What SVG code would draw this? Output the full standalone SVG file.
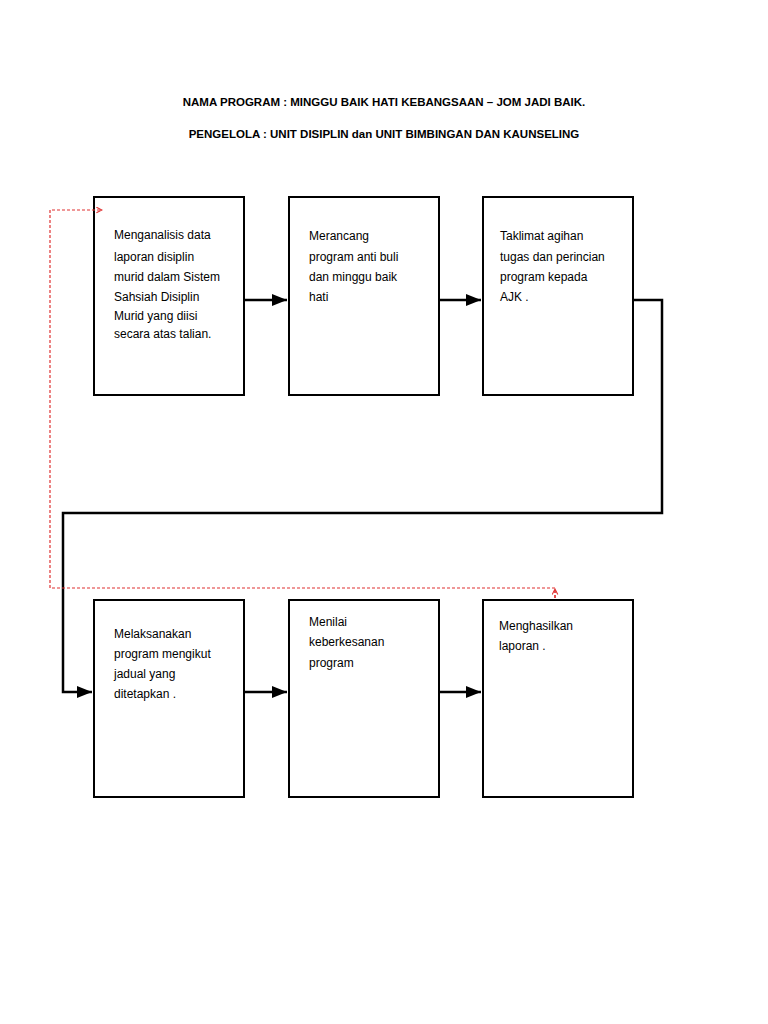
<svg xmlns="http://www.w3.org/2000/svg" width="768" height="1024" viewBox="0 0 768 1024">
<style>
text{font-family:"Liberation Sans",Arial,sans-serif;font-size:12px;fill:#000}
.t{font-weight:bold;font-size:11.5px}
.box{fill:#fff;stroke:#000;stroke-width:2}
.c{fill:none;stroke:#000;stroke-width:2.5}
.r{fill:none;stroke:#e03030;stroke-width:1.2;stroke-dasharray:3,2}
</style>
<defs>
<marker id="a" viewBox="0 0 10 10" refX="10" refY="5" markerWidth="6" markerHeight="6" orient="auto"><path d="M0,1L10,5L0,9z" fill="#000"/></marker>
<marker id="o" viewBox="0 0 10 10" refX="9" refY="5" markerWidth="7" markerHeight="7" orient="auto" markerUnits="userSpaceOnUse"><path d="M1,1L9,5L1,9" fill="none" stroke="#e03030" stroke-width="1.5"/></marker>
</defs>
<text class="t" x="384" y="106" text-anchor="middle">NAMA PROGRAM : MINGGU BAIK HATI KEBANGSAAN – JOM JADI BAIK.</text>
<text class="t" x="384" y="138" text-anchor="middle">PENGELOLA : UNIT DISIPLIN dan UNIT BIMBINGAN DAN KAUNSELING</text>
<g id="n1"><rect class="box" x="94" y="197" width="150" height="198"/>
<text x="114" y="239">Menganalisis data</text><text x="114" y="261">laporan disiplin</text><text x="114" y="281">murid dalam Sistem</text><text x="114" y="301">Sahsiah Disiplin</text><text x="114" y="320">Murid yang diisi</text><text x="114" y="338">secara atas talian.</text></g>
<g id="n2"><rect class="box" x="289" y="197" width="150" height="198"/>
<text x="309" y="240">Merancang</text><text x="309" y="261">program anti buli</text><text x="309" y="281">dan minggu baik</text><text x="309" y="301">hati</text></g>
<g id="n3"><rect class="box" x="483" y="197" width="150" height="198"/>
<text x="500" y="240">Taklimat agihan</text><text x="500" y="261">tugas dan perincian</text><text x="500" y="281">program kepada</text><text x="500" y="301">AJK .</text></g>
<g id="n4"><rect class="box" x="94" y="600" width="150" height="197"/>
<text x="114" y="638">Melaksanakan</text><text x="114" y="658">program mengikut</text><text x="114" y="678">jadual  yang</text><text x="114" y="698">ditetapkan .</text></g>
<g id="n5"><rect class="box" x="289" y="600" width="150" height="197"/>
<text x="309" y="626">Menilai</text><text x="309" y="646">keberkesanan</text><text x="309" y="667">program</text></g>
<g id="n6"><rect class="box" x="483" y="600" width="150" height="197"/>
<text x="499" y="630">Menghasilkan</text><text x="499" y="650">laporan .</text></g>
<g id="connectors">
<path class="c" d="M244,300H287" marker-end="url(#a)"/>
<path class="c" d="M439,300H481" marker-end="url(#a)"/>
<path class="c" d="M633,300H662V513H63V692H92" marker-end="url(#a)"/>
<path class="c" d="M244,692H287" marker-end="url(#a)"/>
<path class="c" d="M439,692H481" marker-end="url(#a)"/>
<path class="r" d="M555,598V588H50V210H102" marker-end="url(#o)"/>
<path class="r" d="M555,598V589" marker-end="url(#o)"/>
</g>
</svg>
